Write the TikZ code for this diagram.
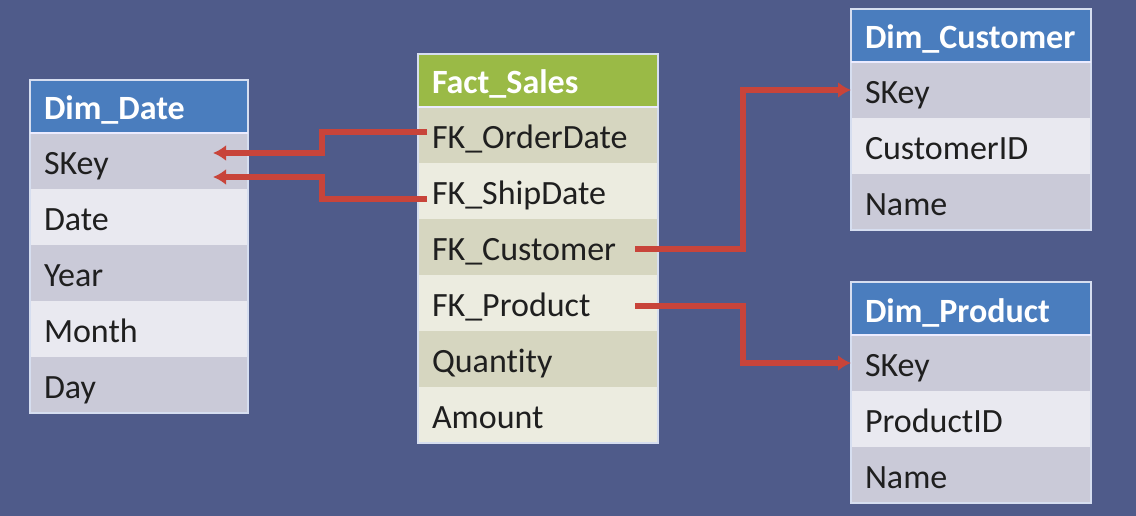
\documentclass[tikz,border=0pt]{standalone}
\usepackage{fontspec}
\setmainfont{Carlito}[Ligatures={NoCommon}]
\usetikzlibrary{positioning, arrows.meta, fit}
\definecolor{slate}{RGB}{79,91,138}
\definecolor{headblue}{RGB}{74,125,190}
\definecolor{headgreen}{RGB}{154,186,70}
\definecolor{dimdark}{RGB}{202,202,216}
\definecolor{dimlight}{RGB}{233,233,240}
\definecolor{factdark}{RGB}{214,214,192}
\definecolor{factlight}{RGB}{236,236,224}
\definecolor{framecol}{RGB}{214,222,240}
\definecolor{linkred}{RGB}{200,68,58}
\tikzset{
  table head/.style={
    rectangle,
    anchor=north west,
    fill=headblue,
    text=white,
    font=\fontsize{34}{34}\selectfont\bfseries,
    text width=#1,
    minimum height=53pt,
    text height=27pt, text depth=0pt,
    inner xsep=14pt, inner ysep=0pt, outer sep=0pt,
    align=left,
  },
  table row/.style={
    rectangle,
    text=black!88,
    font=\fontsize{34}{34}\selectfont,
    text width=#1,
    minimum height=56pt,
    text height=27pt, text depth=0pt,
    inner xsep=14pt, inner ysep=0pt, outer sep=0pt,
    align=left,
  },
  table frame/.style={draw=framecol, line width=1.5pt, inner sep=0pt},
  head rule/.style={draw=white!92!blue, line width=2.5pt},
  fk link/.style={draw=linkred, line width=5.5pt, -{Latex[length=13pt,width=16pt]}},
}
\begin{document}
\begin{tikzpicture}[x=1pt, y=-1pt, node distance=0pt]
        \fill[slate] (0,0) rectangle (1136,516);
        \useasboundingbox (0,0) rectangle (1136,516);

        \coordinate (dstep) at (322,0);
        \coordinate (cstep) at (743,0);

        % Dim_Date
        \node[table head=190pt] (dd) at (30,80) {Dim\_Date};
        \node[table row=190pt, fill=dimdark]  (dd1) [below=of dd]  {SKey};
        \node[table row=190pt, fill=dimlight] (dd2) [below=of dd1] {Date};
        \node[table row=190pt, fill=dimdark]  (dd3) [below=of dd2] {Year};
        \node[table row=190pt, fill=dimlight] (dd4) [below=of dd3] {Month};
        \node[table row=190pt, fill=dimdark]  (dd5) [below=of dd4] {Day};
        \node[table frame, fit=(dd)(dd5)] {};
        \draw[head rule] (dd.south west) -- (dd.south east);

        % Fact_Sales
        \node[table head=212pt, fill=headgreen] (fs) at (418,54) {Fact\_Sales};
        \node[table row=212pt, fill=factdark]  (fs1) [below=of fs]  {FK\_OrderDate};
        \node[table row=212pt, fill=factlight] (fs2) [below=of fs1] {FK\_ShipDate};
        \node[table row=212pt, fill=factdark]  (fs3) [below=of fs2] {FK\_Customer};
        \node[table row=212pt, fill=factlight] (fs4) [below=of fs3] {FK\_Product};
        \node[table row=212pt, fill=factdark]  (fs5) [below=of fs4] {Quantity};
        \node[table row=212pt, fill=factlight] (fs6) [below=of fs5] {Amount};
        \node[table frame, fit=(fs)(fs6)] {};
        \draw[head rule] (fs.south west) -- (fs.south east);

        % Dim_Customer
        \node[table head=212pt] (dc) at (851,9) {Dim\_Customer};
        \node[table row=212pt, fill=dimdark]  (dc1) [below=of dc]  {SKey};
        \node[table row=212pt, fill=dimlight] (dc2) [below=of dc1] {CustomerID};
        \node[table row=212pt, fill=dimdark]  (dc3) [below=of dc2] {Name};
        \node[table frame, fit=(dc)(dc3)] {};
        \draw[head rule] (dc.south west) -- (dc.south east);

        % Dim_Product
        \node[table head=212pt] (dp) at (851,282) {Dim\_Product};
        \node[table row=212pt, fill=dimdark]  (dp1) [below=of dp]  {SKey};
        \node[table row=212pt, fill=dimlight] (dp2) [below=of dp1] {ProductID};
        \node[table row=212pt, fill=dimdark]  (dp3) [below=of dp2] {Name};
        \node[table frame, fit=(dp)(dp3)] {};
        \draw[head rule] (dp.south west) -- (dp.south east);

        % foreign keys
        \draw[fk link] ([xshift=9pt, yshift=3pt]fs1.west) coordinate (o1)
                -- (o1 -| dstep) |- ([xshift=-35pt, yshift=8pt]dd1.east);
        \draw[fk link] ([xshift=9pt, yshift=-8pt]fs2.west) coordinate (o2)
                -- (o2 -| dstep) |- ([xshift=-35pt, yshift=-16pt]dd1.east);
        \draw[fk link] ([xshift=-23pt, yshift=-2pt]fs3.east) coordinate (o3)
                -- (o3 -| cstep) |- (dc1.west);
        \draw[fk link] ([xshift=-23pt, yshift=-3pt]fs4.east) coordinate (o4)
                -- (o4 -| cstep) |- (dp1.west);
\end{tikzpicture}
\end{document}
